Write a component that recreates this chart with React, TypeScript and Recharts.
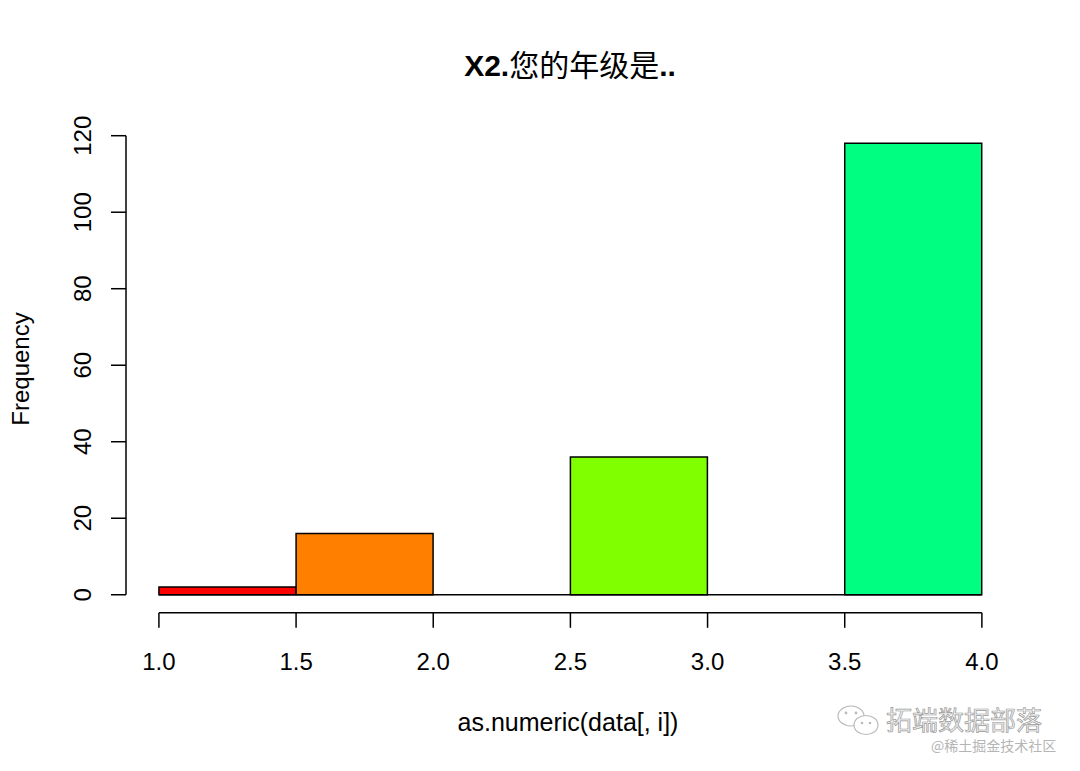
import React from 'react';
import { ComposedChart, Bar, Cell, XAxis, YAxis, ReferenceLine } from 'recharts';

const binStarts = [1.0, 1.5, 2.0, 2.5, 3.0, 3.5];
const binEnds = [1.5, 2.0, 2.5, 3.0, 3.5, 4.0];
const counts = [2, 16, 0, 36, 0, 118];
const binColors = ['#FF0000', '#FF8000', '#FFFF00', '#80FF00', '#00FF00', '#00FF80'];
const xTicks = [1.0, 1.5, 2.0, 2.5, 3.0, 3.5, 4.0];
const yTicks = [0, 20, 40, 60, 80, 100, 120];

const data = binStarts.map((s, i) => ({ mid: (s + binEnds[i]) / 2, count: counts[i] }));

const W = 1080;
const H = 771;
const FONT = '"Liberation Sans", Arial, sans-serif';
const CJK = '"Noto Sans CJK SC", sans-serif';

const xDomain = [0.88, 4.12];
const yDomain = [-4.72, 122.72];

const YTick = (props: any) => {
  const { x, y, payload } = props;
  return (
    <text
      x={x}
      y={y}
      transform={`rotate(-90, ${x}, ${y})`}
      textAnchor="middle"
      fontFamily={FONT}
      fontSize={24}
      fill="#000"
    >
      {payload.value}
    </text>
  );
};

const XTick = (props: any) => {
  const { x, y, payload } = props;
  return (
    <text x={x} y={y} dy="0.71em" textAnchor="middle" fontFamily={FONT} fontSize={24} fill="#000">
      {Number(payload.value).toFixed(1)}
    </text>
  );
};

export default function App() {
  return (
    <div style={{ position: 'absolute', left: 0, top: 0, width: W, height: H, background: '#fff' }}>
      <ComposedChart
        width={W}
        height={H}
        data={data}
        margin={{ top: 125.3, right: 65.2, bottom: 98.2, left: 0 }}
        barCategoryGap={0}
        barGap={0}
      >
        <XAxis
          dataKey="mid"
          type="number"
          domain={xDomain}
          allowDataOverflow
          ticks={xTicks}
          interval={0}
          height={60}
          axisLine={false}
          tickLine={{ stroke: '#000', strokeWidth: 1.5 }}
          tickSize={15}
          tickMargin={25}
          tick={<XTick />}
        />
        <YAxis
          type="number"
          domain={yDomain}
          allowDataOverflow
          ticks={yTicks}
          interval={0}
          width={126}
          axisLine={false}
          tickLine={{ stroke: '#000', strokeWidth: 1.5 }}
          tickSize={15}
          tickMargin={20}
          tick={<YTick />}
        />
        <Bar dataKey="count" isAnimationActive={false} stroke="#000" strokeWidth={1.5}>
          {data.map((d, i) => (
            <Cell key={i} fill={binColors[i]} />
          ))}
        </Bar>
        <ReferenceLine
          segment={[{ x: binStarts[0], y: 0 }, { x: binEnds[binEnds.length - 1], y: 0 }]}
          stroke="#000"
          strokeWidth={1.5}
          ifOverflow="visible"
        />
        <ReferenceLine
          segment={[{ x: xTicks[0], y: yDomain[0] }, { x: xTicks[xTicks.length - 1], y: yDomain[0] }]}
          stroke="#000"
          strokeWidth={1.5}
          ifOverflow="visible"
        />
        <ReferenceLine
          segment={[{ x: xDomain[0], y: yTicks[0] }, { x: xDomain[0], y: yTicks[yTicks.length - 1] }]}
          stroke="#000"
          strokeWidth={1.5}
          ifOverflow="visible"
        />
      </ComposedChart>
      <svg
        width={W}
        height={H}
        style={{ position: 'absolute', left: 0, top: 0, pointerEvents: 'none' }}
      >
        <text x={570} y={76} textAnchor="middle" fontSize={30} fill="#000">
          <tspan fontFamily={FONT} fontWeight="bold">X2.</tspan>
          <tspan fontFamily={CJK} fontWeight="normal">您的年级是</tspan>
          <tspan fontFamily={FONT} fontWeight="bold">..</tspan>
        </text>
        <text x={568} y={731} textAnchor="middle" fontFamily={FONT} fontSize={25} fill="#000">
          as.numeric(data[, i])
        </text>
        <text
          x={29}
          y={369}
          transform="rotate(-90, 29, 369)"
          textAnchor="middle"
          fontFamily={FONT}
          fontSize={24}
          fill="#000"
        >
          Frequency
        </text>
        {/* watermark */}
        <g stroke="#bbb" strokeWidth={1.2} fill="#fff">
          <ellipse cx={851} cy={716} rx={13} ry={10} />
          <ellipse cx={866} cy={725} rx={12} ry={9.5} />
        </g>
        <g fill="#bbb">
          <circle cx={846} cy={713} r={1.4} />
          <circle cx={856} cy={713} r={1.4} />
          <circle cx={862} cy={723} r={1.3} />
          <circle cx={870} cy={723} r={1.3} />
        </g>
        <text
          x={886}
          y={730}
          fontFamily={CJK}
          fontSize={26}
          fill="#f2f2f2"
          stroke="#9a9a9a"
          strokeWidth={0.7}
        >
          拓端数据部落
        </text>
        <text x={931} y={751} fontFamily={CJK} fontSize={14} fill="#b5b5b5">
          @稀土掘金技术社区
        </text>
      </svg>
    </div>
  );
}
